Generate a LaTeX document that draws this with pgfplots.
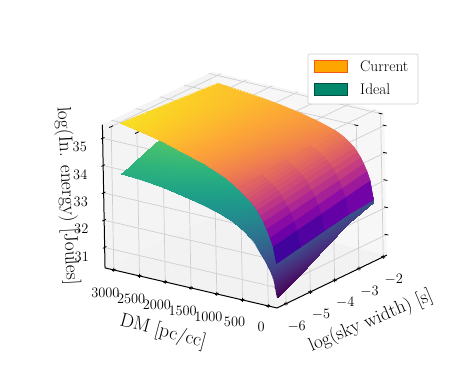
\documentclass[border=0pt]{standalone}
\usepackage{pgfplots}
\pgfplotsset{compat=1.18}
\pgfplotsset{colormap={plasma}{rgb255=(13,8,135) rgb255=(65,4,157) rgb255=(106,0,168) rgb255=(143,13,164) rgb255=(177,42,144) rgb255=(204,71,120) rgb255=(225,100,98) rgb255=(242,132,75) rgb255=(252,166,54) rgb255=(252,206,37) rgb255=(240,249,33)}}
\definecolor{gridc}{HTML}{CFCFCF}
\pgfplotsset{
 virr/.style={colormap/viridis,point meta rel=per plot,point meta min=30.4,point meta max=35.6},
 plar/.style={colormap name=plasma,point meta rel=per plot,point meta min=31.64,point meta max=35.7},
 vir/.style={surf,shader=interp,virr},
 plai/.style={surf,shader=interp,plar},
 plaf/.style={surf,shader=flat,plar},
}
\begin{document}
\begin{tikzpicture}[x=1pt,y=1pt]
\begin{axis}[
 at={(-174.6pt,0pt)},anchor=south west,
 set layers=standard,
 x={(-0.0515pt,0.012pt)},y={(24.3pt,11.7pt)},z={(-0.5pt,27.3pt)},
 xmin=-170,xmax=3170,ymin=-6.37,ymax=-1.85,zmin=30.25,zmax=35.5,
 xtick={0,500,...,3000},ytick={-6,...,-2},ztick={31,...,35},
 clip=false,
 grid=major,grid style={gridc,line width=0.7pt},
 axis line style={draw=none},
 tick pos=lower,tick align=center,
 tick style={black,line width=0.8pt},major tick length=4pt,
 ticklabel style={font=\fontsize{13.5}{13.5}\selectfont},
 xticklabel style={xshift=0pt,yshift=-11.5pt},
 yticklabel style={xshift=0pt,yshift=-11.5pt},
 zticklabel style={xshift=-10.5pt,yshift=-7pt},
 scaled ticks=false,
 /pgf/number format/1000 sep={},
 xlabel={DM [pc/cc]},ylabel={log(sky width) [s]},zlabel={log(In. energy) [Joules]},
 every axis x label/.style={at={(axis cs:670,-9.283,30.25)},anchor=center,rotate=-15,font=\fontsize{19.3}{19.3}\selectfont},
 every axis y label/.style={at={(axis cs:-1760,-5.88,30.25)},anchor=center,rotate=23,font=\fontsize{19}{19}\selectfont},
 every axis z label/.style={at={(axis cs:5620,-2.736,30.25)},anchor=center,rotate=-87,font=\fontsize{19.3}{19.3}\selectfont},
]
\begin{pgfonlayer}{axis background}
\fill[fill=black!5] (axis cs:-170,-6.37,30.25)--(axis cs:3170,-6.37,30.25)--(axis cs:3170,-1.85,30.25)--(axis cs:-170,-1.85,30.25)--cycle;
\fill[fill=black!4.5] (axis cs:3170,-6.37,30.25)--(axis cs:3170,-1.85,30.25)--(axis cs:3170,-1.85,35.5)--(axis cs:3170,-6.37,35.5)--cycle;
\fill[fill=black!3] (axis cs:-170,-1.85,30.25)--(axis cs:3170,-1.85,30.25)--(axis cs:3170,-1.85,35.5)--(axis cs:-170,-1.85,35.5)--cycle;
\end{pgfonlayer}
\draw[black,line width=1pt] (axis cs:3170,-6.37,35.5)--(axis cs:3170,-6.37,30.25)--(axis cs:-170,-6.37,30.25)--(axis cs:-170,-1.85,30.25);

% Ideal
\addplot3[vir] coordinates {
(600,-6,32.52) (600,-5,32.95) (600,-4,33.37) (600,-3,33.76) (600,-2,34.07)

(720,-6,32.68) (720,-5,33.07) (720,-4,33.49) (720,-3,33.88) (720,-2,34.20)

(840,-6,32.81) (840,-5,33.19) (840,-4,33.56) (840,-3,33.94) (840,-2,34.30)

(960,-6,32.90) (960,-5,33.28) (960,-4,33.65) (960,-3,34.03) (960,-2,34.40)

(1100,-6,33.00) (1100,-5,33.37) (1100,-4,33.74) (1100,-3,34.11) (1100,-2,34.48)

(1400,-6,33.16) (1400,-5,33.53) (1400,-4,33.89) (1400,-3,34.26) (1400,-2,34.62)

(1800,-6,33.33) (1800,-5,33.69) (1800,-4,34.04) (1800,-3,34.40) (1800,-2,34.75)

(2200,-6,33.48) (2200,-5,33.83) (2200,-4,34.17) (2200,-3,34.52) (2200,-2,34.86)

(2600,-6,33.56) (2600,-5,33.91) (2600,-4,34.26) (2600,-3,34.60) (2600,-2,34.95)

(3000,-6,33.62) (3000,-5,33.97) (3000,-4,34.32) (3000,-3,34.67) (3000,-2,35.02)
};
\addplot3[vir] coordinates {
(120,-6,31.30) (120,-5,31.78) (120,-4,32.24) (120,-3,32.66) (120,-2,33.00)

(180,-6,31.50) (180,-5,31.99) (180,-4,32.46) (180,-3,32.90) (180,-2,33.25)

(240,-6,31.70) (240,-5,32.19) (240,-4,32.66) (240,-3,33.10) (240,-2,33.45)

(300,-6,31.85) (300,-5,32.34) (300,-4,32.81) (300,-3,33.25) (300,-2,33.60)

(360,-6,32.02) (360,-5,32.50) (360,-4,32.96) (360,-3,33.38) (360,-2,33.72)

(420,-6,32.20) (420,-5,32.65) (420,-4,33.09) (420,-3,33.50) (420,-2,33.82)

(480,-6,32.32) (480,-5,32.77) (480,-4,33.20) (480,-3,33.60) (480,-2,33.92)

(540,-6,32.43) (540,-5,32.87) (540,-4,33.29) (540,-3,33.69) (540,-2,34.00)

(600,-6,32.52) (600,-5,32.95) (600,-4,33.37) (600,-3,33.76) (600,-2,34.07)
};
% steepest rows: shaded darker in the reference, so their colour is given apart
\addplot3[surf,shader=interp,virr,point meta=explicit] coordinates {
(0,-6,30.40) [30.40] (0,-5,30.85) [30.60] (0,-4,31.37) [31.00] (0,-3,31.85) [31.35] (0,-2,32.20) [31.60]

(60,-6,31.00) [31.00] (60,-5,31.48) [31.30] (60,-4,31.94) [31.60] (60,-3,32.36) [31.95] (60,-2,32.70) [32.20]

(120,-6,31.30) [31.30] (120,-5,31.78) [31.78] (120,-4,32.24) [32.24] (120,-3,32.66) [32.66] (120,-2,33.00) [33.00]
};
\addplot3[mesh,virr,line width=0.5pt] coordinates {
(3000,-6,33.62) (2600,-6,33.56) (2200,-6,33.48) (1800,-6,33.33) (1400,-6,33.16) (1100,-6,33.00) (960,-6,32.90) (840,-6,32.81) (720,-6,32.68) (600,-6,32.52) (540,-6,32.43) (480,-6,32.32) (420,-6,32.20) (360,-6,32.02) (300,-6,31.85) (240,-6,31.70) (180,-6,31.50) (120,-6,31.30) (60,-6,31.00) (0,-6,30.40)
};
% Current
\addplot3[plai] coordinates {
(720,-6,34.07) (720,-4,34.28) (720,-2,34.48)

(840,-6,34.22) (840,-4,34.39) (840,-2,34.56)

(960,-6,34.36) (960,-4,34.50) (960,-2,34.63)

(1100,-6,34.48) (1100,-4,34.59) (1100,-2,34.70)

(1400,-6,34.72) (1400,-4,34.78) (1400,-2,34.84)

(1800,-6,34.95) (1800,-4,34.96) (1800,-2,34.97)

(2200,-6,35.16) (2200,-4,35.12) (2200,-2,35.08)

(2600,-6,35.33) (2600,-4,35.25) (2600,-2,35.16)

(3000,-6,35.47) (3000,-4,35.35) (3000,-2,35.22)
};
\addplot3[plaf] coordinates {
(0,-6,31.64) (0,-5,31.82) (0,-4,32.00) (0,-3,32.17) (0,-2,32.26)

(60,-6,32.25) (60,-5,32.43) (60,-4,32.60) (60,-3,32.78) (60,-2,32.95)

(120,-6,32.55) (120,-5,32.73) (120,-4,32.91) (120,-3,33.09) (120,-2,33.27)

(180,-6,32.85) (180,-5,33.02) (180,-4,33.19) (180,-3,33.35) (180,-2,33.52)

(240,-6,33.08) (240,-5,33.24) (240,-4,33.40) (240,-3,33.56) (240,-2,33.72)

(300,-6,33.28) (300,-5,33.43) (300,-4,33.59) (300,-3,33.74) (300,-2,33.89)

(360,-6,33.45) (360,-5,33.60) (360,-4,33.74) (360,-3,33.89) (360,-2,34.03)

(420,-6,33.58) (420,-5,33.72) (420,-4,33.86) (420,-3,33.99) (420,-2,34.13)

(480,-6,33.70) (480,-5,33.83) (480,-4,33.96) (480,-3,34.09) (480,-2,34.22)

(540,-6,33.80) (540,-5,33.93) (540,-4,34.05) (540,-3,34.18) (540,-2,34.30)

(600,-6,33.89) (600,-5,34.01) (600,-4,34.13) (600,-3,34.25) (600,-2,34.37)

(660,-6,33.98) (660,-5,34.09) (660,-4,34.21) (660,-3,34.32) (660,-2,34.43)

(720,-6,34.07) (720,-5,34.17) (720,-4,34.28) (720,-3,34.38) (720,-2,34.48)
};
\addplot3[mesh,plar,line width=0.5pt] coordinates {
(3000,-2,35.22) (3000,-6,35.47) (2600,-6,35.33) (2200,-6,35.16) (1800,-6,34.95) (1400,-6,34.72) (1100,-6,34.48) (960,-6,34.36) (840,-6,34.22) (720,-6,34.07) (600,-6,33.89) (480,-6,33.70) (360,-6,33.45) (240,-6,33.08) (120,-6,32.55) (60,-6,32.25) (0,-6,31.64)
};
\addplot3[mesh,plar,line width=0.5pt] coordinates {
(3000,-2,35.22) (2600,-2,35.16) (2200,-2,35.08) (1800,-2,34.97) (1400,-2,34.84) (1100,-2,34.70) (960,-2,34.63) (840,-2,34.56) (720,-2,34.48) (600,-2,34.37) (480,-2,34.22) (360,-2,34.03) (240,-2,33.72) (120,-2,33.27) (60,-2,32.95) (0,-2,32.26)
};
\end{axis}
% legend
\begin{scope}[shift={(-277,-71)}]
\draw[draw=black!20,fill=white,rounded corners=2pt,line width=0.6pt] (308,275) rectangle (418,325);
\fill[fill={rgb,255:red,255;green,165;blue,0},draw={rgb,255:red,240;green,90;blue,20},line width=0.7pt] (314,306.5) rectangle (347.5,319);
\fill[fill={rgb,255:red,0;green,135;blue,108},draw={rgb,255:red,0;green,80;blue,65},line width=0.7pt] (314,284) rectangle (347.5,295.5);
\node[anchor=base west,inner sep=0pt,font=\fontsize{15.4}{15.4}\selectfont] at (360,307) {Current};
\node[anchor=base west,inner sep=0pt,font=\fontsize{15.4}{15.4}\selectfont] at (360,284) {Ideal};
\end{scope}
\pgfresetboundingbox
\useasboundingbox (-277,-71) rectangle (197,308);
\end{tikzpicture}
\end{document}
